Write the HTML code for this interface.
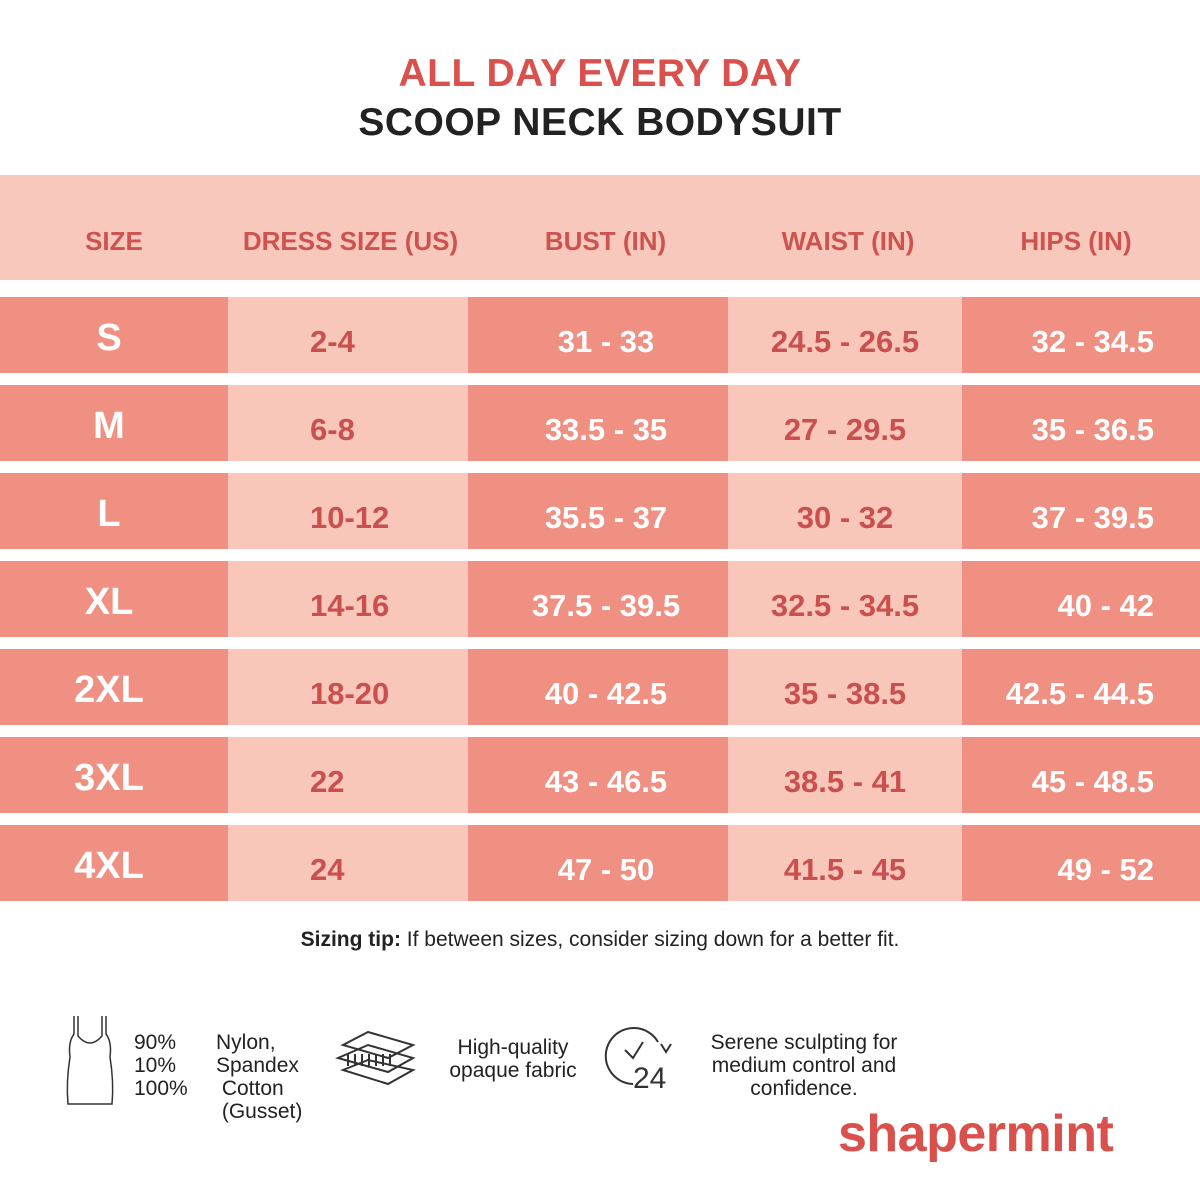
<!DOCTYPE html>
<html><head><style>
body{margin:0;width:1200px;height:1200px;background:#fff;position:relative;font-family:"Liberation Sans",sans-serif;overflow:hidden}
.a{position:absolute}
.t{position:absolute;left:0;width:1200px;text-align:center;font-weight:900;font-size:39px;letter-spacing:0.5px}
.hd{position:absolute;top:175px;left:0;width:1200px;height:105px;background:#f9c8bc}
.h{position:absolute;top:226px;font-size:26px;font-weight:bold;color:#cc5350;text-align:center}
.c{position:absolute;height:76px;box-sizing:border-box;padding-top:14px;display:flex;align-items:center;justify-content:center;font-weight:bold;font-size:31px}
.d{background:#ef9082;color:#fff}
.l{background:#f9c6ba;color:#c9504f}
.s{font-size:38px;padding-top:6px}
.dl{justify-content:flex-start;padding-left:82px}
.hr{justify-content:flex-end;padding-right:46px}
.sm{position:absolute;font-size:21px;color:#222;line-height:23px}
</style></head><body>
<div class="t" style="top:52px;color:#d9504c">ALL DAY EVERY DAY</div>
<div class="t" style="top:101px;color:#222">SCOOP NECK BODYSUIT</div>
<div class="hd"></div>
<div class="h" style="left:0;width:228px">SIZE</div>
<div class="h" style="left:228px;width:245px">DRESS SIZE (US)</div>
<div class="h" style="left:468px;width:275px">BUST (IN)</div>
<div class="h" style="left:728px;width:240px">WAIST (IN)</div>
<div class="h" style="left:962px;width:228px">HIPS (IN)</div>
<div id="rows"></div>
<script>
var r=[["S","2-4","31 - 33","24.5 - 26.5","32 - 34.5"],["M","6-8","33.5 - 35","27 - 29.5","35 - 36.5"],["L","10-12","35.5 - 37","30 - 32","37 - 39.5"],["XL","14-16","37.5 - 39.5","32.5 - 34.5","40 - 42"],["2XL","18-20","40 - 42.5","35 - 38.5","42.5 - 44.5"],["3XL","22","43 - 46.5","38.5 - 41","45 - 48.5"],["4XL","24","47 - 50","41.5 - 45","49 - 52"]];
var cols=[[0,218,"d s"],[228,240,"l dl"],[468,276,"d"],[728,234,"l"],[962,238,"d hr"]];
var h="";
r.forEach(function(row,i){var y=297+i*88;cols.forEach(function(c,j){var w=c[1];var st='top:'+y+'px;left:'+c[0]+'px;width:'+w+'px';
if(j==0)st+=';box-shadow:10px 0 0 #ef9082';
if(j==2)st='top:'+y+'px;left:468px;width:260px;padding-left:16px';
h+='<div class="c '+c[2]+'" style="'+st+'">'+row[j]+'</div>';});});
document.getElementById("rows").innerHTML=h;
</script>
<div class="a" style="top:928px;left:0;width:1200px;text-align:center;font-size:21px;color:#222"><b>Sizing tip:</b> If between sizes, consider sizing down for a better fit.</div>
<svg class="a" style="left:60px;top:1012px" width="60" height="96" viewBox="0 0 60 96" fill="none" stroke="#333" stroke-width="1.5"><path d="M14 4 V22 Q8 30 10 45 Q6 70 8 92 H52 Q54 70 50 45 Q52 30 46 22 V4 M18 4 V24 Q30 38 42 24 V4"/></svg>
<div class="sm" style="left:134px;top:1031px">90%<br>10%<br>100%</div>
<div class="sm" style="left:216px;top:1031px">Nylon,<br>Spandex<br>&nbsp;Cotton<br>&nbsp;(Gusset)</div>
<svg class="a" style="left:333px;top:1030px" width="86" height="56" viewBox="0 0 86 56" fill="none" stroke="#333" stroke-width="2"><path d="M10 15 L35 2 L80 15 L55 28 Z M5 28 L35 15 L80 28 L55 42 Z M10 40 L35 30 L80 40 L55 54 Z"/><path d="M15 24 v12 M22 24 v12 M29 24 v12 M36 24 v12 M43 24 v12 M50 24 v12 M57 24 v12"/></svg>
<div class="sm" style="left:440px;top:1036px;text-align:center;width:146px">High-quality<br>opaque fabric</div>
<svg class="a" style="left:603px;top:1022px" width="70" height="70" viewBox="0 0 70 70" fill="none" stroke="#333" stroke-width="2"><path d="M55 20 A28 28 0 1 0 30 62"/><path d="M22 28 l8 8 l10 -16 M58 22 l5 8 l5 -8"/><text x="30" y="66" font-size="30" fill="#333" stroke="none" font-family="Liberation Sans">24</text></svg>
<div class="sm" style="left:690px;top:1031px;text-align:center;width:228px">Serene sculpting for<br>medium control and<br>confidence.</div>
<div class="a" style="left:838px;top:1104px;font-size:52px;font-weight:bold;color:#d9504c;letter-spacing:-0.5px">shapermint</div>
</body></html>
